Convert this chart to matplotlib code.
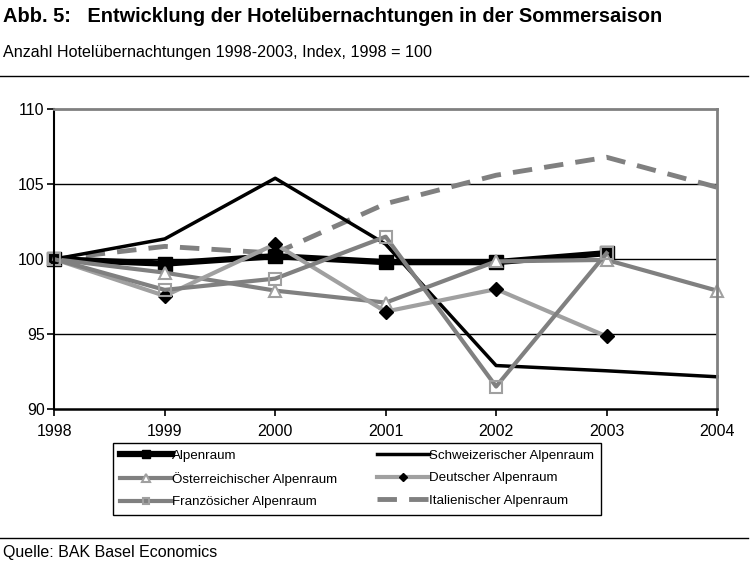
import numpy as np
import matplotlib.pyplot as plt
from matplotlib.lines import Line2D

plt.rcParams['font.family'] = ['Liberation Sans', 'DejaVu Sans']

years = [1998, 1999, 2000, 2001, 2002, 2003, 2004]

# index values, 1998 = 100
alpenraum = [100, 99.7, 100.2, 99.8, 99.8, 100.4]
schweiz = [100, 101.35, 105.4, 101.0, 92.9, 92.55, 92.15]
oesterreich = [100, 99.1, 97.9, 97.1, 99.85, 99.95, 97.9]
deutsch = [100, 97.55, 101.0, 96.5, 98.0, 94.85]
frankreich = [100, 97.95, 98.7, 101.5, 91.5, 100.4]
italien = [100, 100.85, 100.4, 103.7, 105.6, 106.8, 104.8]

labels = ['Alpenraum', 'Schweizerischer Alpenraum', 'Österreichischer Alpenraum',
          'Deutscher Alpenraum', 'Französicher Alpenraum', 'Italienischer Alpenraum']

W, H = 752, 568
fig = plt.figure(figsize=(W/100, H/100), dpi=100)
ax = fig.add_axes([54.3/W, 1-409/H, (717-54.3)/W, (409-109.3)/H])

grey = '#808080'
lgrey = '#a0a0a0'

h_alp, = ax.plot(years[:6], alpenraum, color='black', lw=4.5, marker='s', ms=10,
                 mfc='black', mec='black', label=labels[0], zorder=3)
h_sch, = ax.plot(years, schweiz, color='black', lw=2.5, label=labels[1], zorder=4)
h_oes, = ax.plot(years, oesterreich, color=grey, lw=3, marker='^', ms=9,
                 mfc='white', mec=lgrey, mew=1.5, label=labels[2], zorder=5)
h_deu, = ax.plot(years[:6], deutsch, color=lgrey, lw=3, marker='D', ms=7,
                 mfc='black', mec='black', label=labels[3], zorder=6)
h_fra, = ax.plot(years[:6], frankreich, color=grey, lw=3, marker='s', ms=8,
                 mfc='none', mec=lgrey, mew=1.5, label=labels[4], zorder=7)
h_ita, = ax.plot(years, italien, color=grey, lw=3.5, ls=(0, (4, 2.5)),
                 label=labels[5], zorder=2)
for h in [h_alp, h_sch, h_oes, h_deu, h_fra, h_ita]:
    h.set_clip_on(False)

ax.set_xlim(1998, 2004)
ax.set_ylim(90, 110)
ax.set_xticks(years)
ax.set_yticks([90, 95, 100, 105, 110])
ax.tick_params(axis='both', direction='out', length=5, width=1.2, labelsize=11.5, colors='black')
ax.tick_params(axis='x', pad=6)
ax.tick_params(axis='y', pad=2)
for y in [95, 100, 105]:
    ax.axhline(y, color='black', lw=1, zorder=1)
ax.spines['left'].set_color('black')
ax.spines['left'].set_linewidth(1.5)
ax.spines['bottom'].set_color('black')
ax.spines['bottom'].set_linewidth(1.8)
ax.spines['top'].set_color(grey)
ax.spines['top'].set_linewidth(2)
ax.spines['right'].set_color(grey)
ax.spines['right'].set_linewidth(2)
for s in ax.spines.values():
    s.set_zorder(10)

handles = [h_alp, h_oes, h_fra, h_sch, h_deu, h_ita]
leg = fig.legend(handles=handles, labels=[h.get_label() for h in handles], ncol=2,
                 loc='upper left', bbox_to_anchor=(113/W, 1-523/H, (601-113)/W, 80/H),
                 mode='expand', borderaxespad=0, frameon=True, fancybox=False,
                 edgecolor='black', framealpha=1, handlelength=3.9,
                 handletextpad=0.05, labelspacing=0.75, borderpad=0.5, markerscale=0.6,
                 fontsize=9.6)
leg.get_frame().set_linewidth(1)

fig.text(3/W, 1-17/H, 'Abb. 5:   Entwicklung der Hotelübernachtungen in der Sommersaison',
         fontsize=14.4, fontweight='bold', va='center', ha='left')
fig.text(3/W, 1-52/H, 'Anzahl Hotelübernachtungen 1998-2003, Index, 1998 = 100',
         fontsize=11.6, va='center', ha='left')
fig.text(3/W, 1-553/H, 'Quelle: BAK Basel Economics', fontsize=11.5, va='center', ha='left')
fig.add_artist(Line2D([0, 748/W], [1-76/H, 1-76/H], color='black', lw=1))
fig.add_artist(Line2D([0, 748/W], [1-538/H, 1-538/H], color='black', lw=1))

fig.savefig('out.png', dpi=100)
